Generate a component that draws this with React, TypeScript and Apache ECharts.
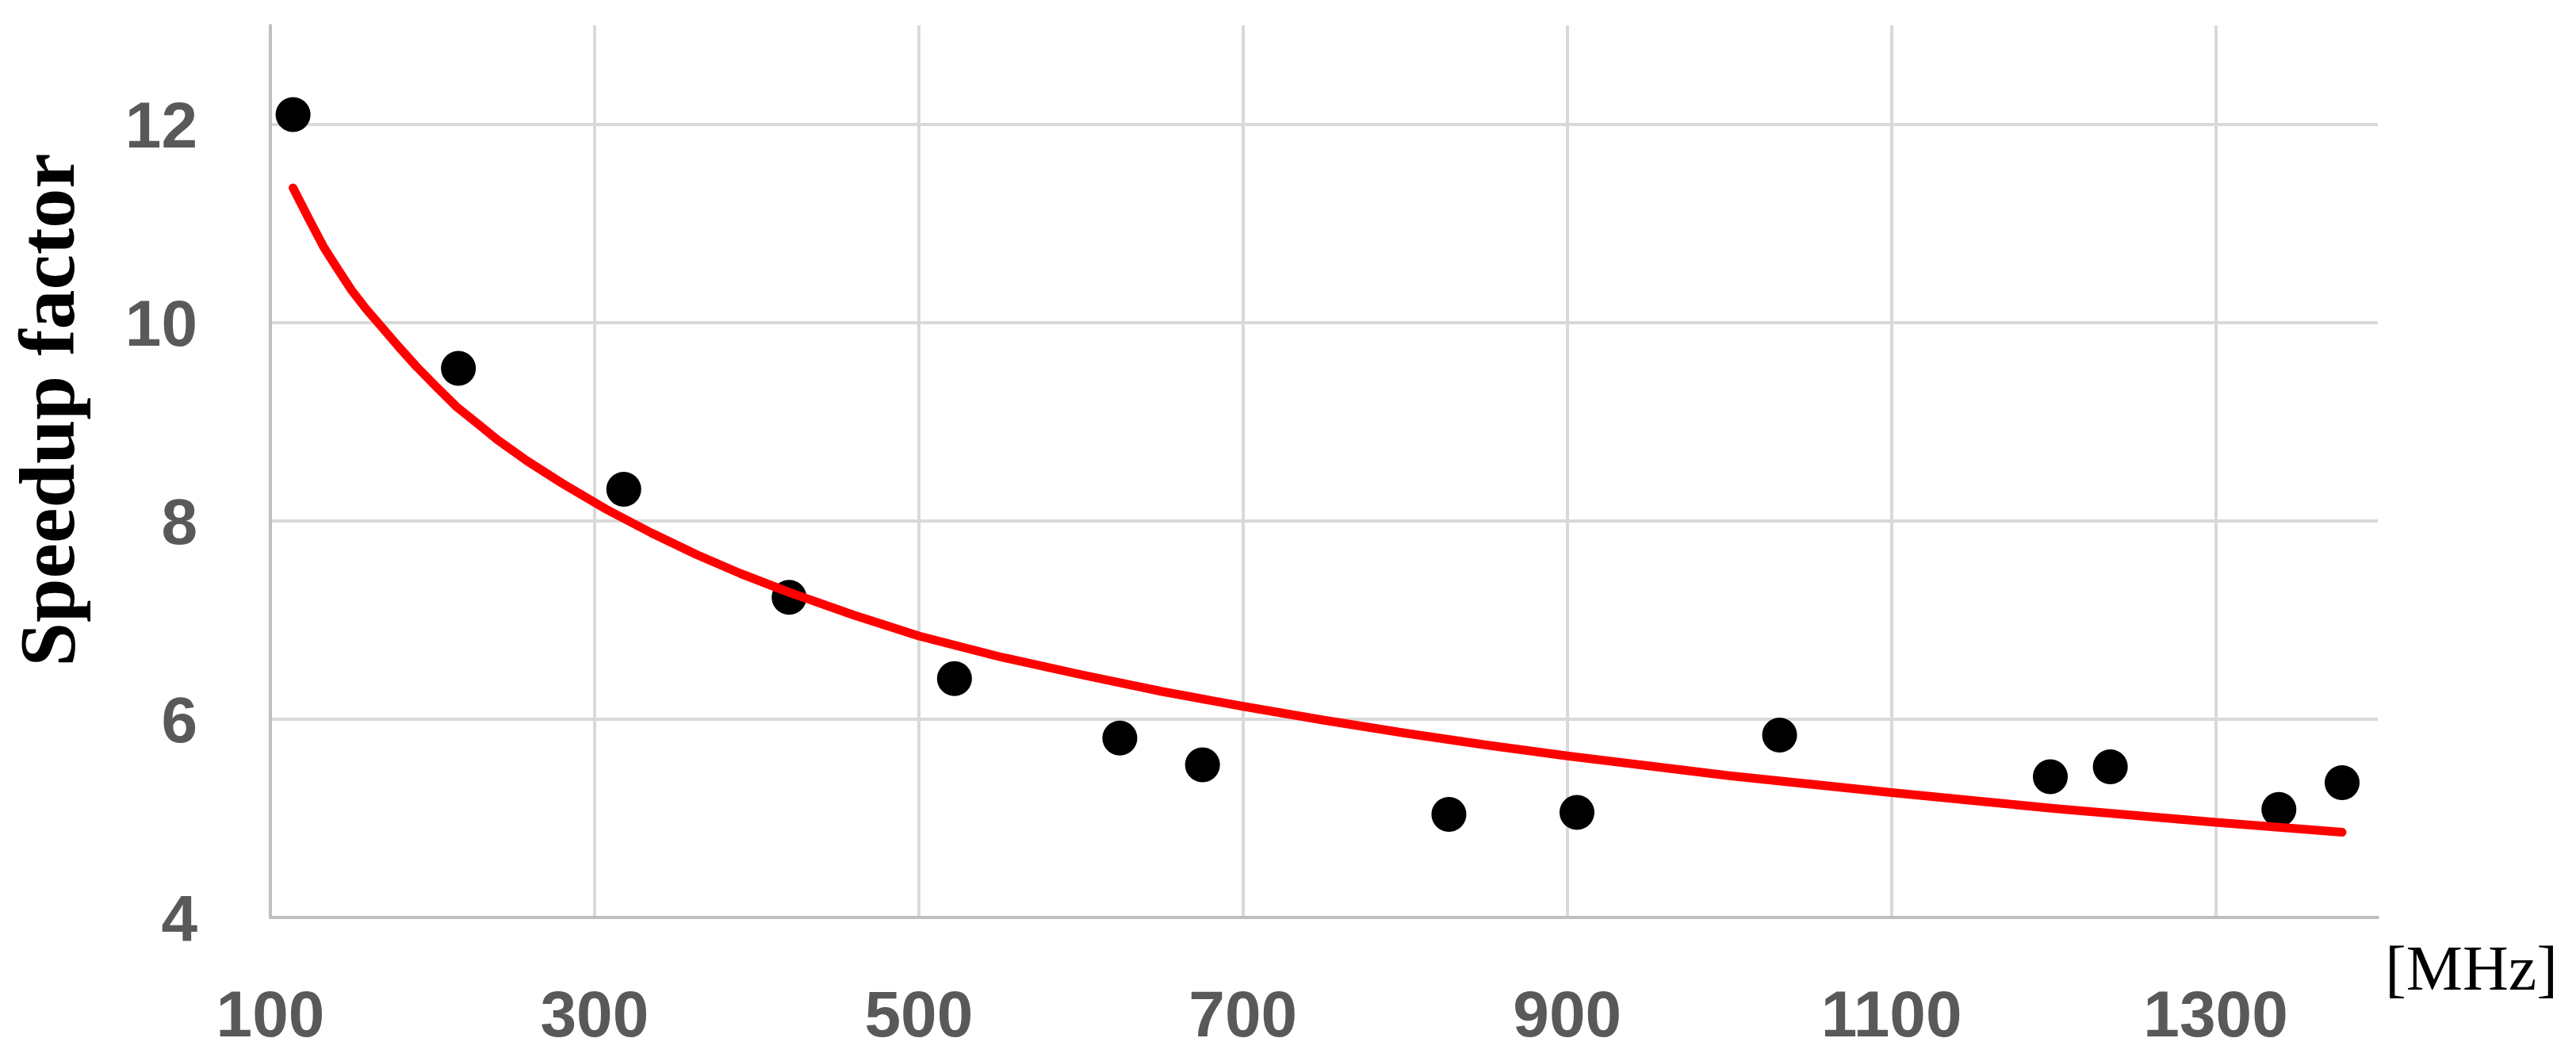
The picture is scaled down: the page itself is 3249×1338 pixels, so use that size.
import React, { useEffect, useRef } from "react";
import * as echarts from "echarts";

// Measured points (frequency in MHz, speedup factor)
const freqMHz = [114, 216, 318, 420, 522, 624, 675, 827, 906, 1031, 1198, 1235, 1339, 1378];
const speedup = [12.1, 9.54, 8.32, 7.23, 6.41, 5.81, 5.54, 5.04, 5.06, 5.84, 5.42, 5.52, 5.09, 5.36];

// Red trend curve at several frequencies
const trendFreq = [114, 124, 133, 142, 150, 159, 168, 179, 190, 202, 215, 228, 240, 258, 280, 307, 335, 363, 390, 420, 460, 500, 550, 600, 650, 700, 750, 800, 850, 900, 950, 1000, 1100, 1200, 1300, 1378];
const trendSpeedup = [11.36, 11.04, 10.76, 10.53, 10.33, 10.14, 9.97, 9.76, 9.56, 9.36, 9.15, 8.98, 8.82, 8.61, 8.38, 8.12, 7.88, 7.66, 7.47, 7.28, 7.05, 6.84, 6.63, 6.45, 6.28, 6.13, 5.99, 5.86, 5.74, 5.63, 5.53, 5.43, 5.26, 5.1, 4.96, 4.86];

const xAxisMin = 100;
const xAxisMax = 1400;
const xAxisStep = 200;
const yAxisMin = 4;
const yAxisMax = 13;
const yAxisStep = 2;

const yTitle = "Speedup factor";
const xTitle = "[MHz]";

export default function App() {
  const ref = useRef<HTMLDivElement>(null);

  useEffect(() => {
    document.body.style.margin = "0";
    if (!ref.current) return;
    const chart = echarts.init(ref.current, null, { renderer: "svg" });
    const labelStyle = {
      color: "#595959",
      fontFamily: "Liberation Sans",
      fontWeight: "bold" as const,
      fontSize: 82,
    };
    chart.setOption({
      animation: false,
      backgroundColor: "#ffffff",
      grid: { left: 341, right: 250, top: 32, bottom: 181, containLabel: false },
      xAxis: {
        type: "value",
        min: xAxisMin,
        max: xAxisMax,
        interval: xAxisStep,
        axisLine: { show: true, onZero: false, lineStyle: { color: "#bfbfbf", width: 4 } },
        axisTick: { show: false },
        axisLabel: { ...labelStyle, margin: 80, showMaxLabel: false, formatter: (v: number) => String(v) },
        splitLine: {
          show: true,
          showMaxLine: false,
          lineStyle: { color: "#d9d9d9", width: 4 },
        },
      },
      yAxis: {
        type: "value",
        min: yAxisMin,
        max: yAxisMax,
        interval: yAxisStep,
        axisLine: { show: true, onZero: false, lineStyle: { color: "#bfbfbf", width: 4 } },
        axisTick: { show: false },
        axisLabel: { ...labelStyle, margin: 92, showMaxLabel: false, formatter: (v: number) => String(v) },
        splitLine: {
          show: true,
          showMaxLine: false,
          lineStyle: { color: "#d9d9d9", width: 4 },
        },
      },
      graphic: [
        {
          type: "text",
          x: 59,
          y: 517,
          rotation: Math.PI / 2,
          style: {
            text: yTitle,
            fill: "#000000",
            font: "bold 100px 'Liberation Serif'",
            align: "center",
            verticalAlign: "middle",
          },
        },
        {
          type: "text",
          x: 3117,
          y: 1221,
          style: {
            text: xTitle,
            fill: "#000000",
            font: "80px 'Liberation Serif'",
            align: "center",
            verticalAlign: "middle",
          },
        },
      ],
      series: [
        {
          type: "scatter",
          data: freqMHz.map((f, i) => [f, speedup[i]]),
          symbol: "circle",
          symbolSize: 44,
          itemStyle: { color: "#000000", opacity: 1 },
          z: 2,
        },
        {
          type: "line",
          data: trendFreq.map((f, i) => [f, trendSpeedup[i]]),
          smooth: false,
          showSymbol: false,
          symbol: "none",
          lineStyle: { color: "#ff0000", width: 11, cap: "round", join: "round" },
          z: 3,
        },
      ],
    });
    return () => chart.dispose();
  }, []);

  return <div ref={ref} style={{ width: 3249, height: 1338 }} />;
}
